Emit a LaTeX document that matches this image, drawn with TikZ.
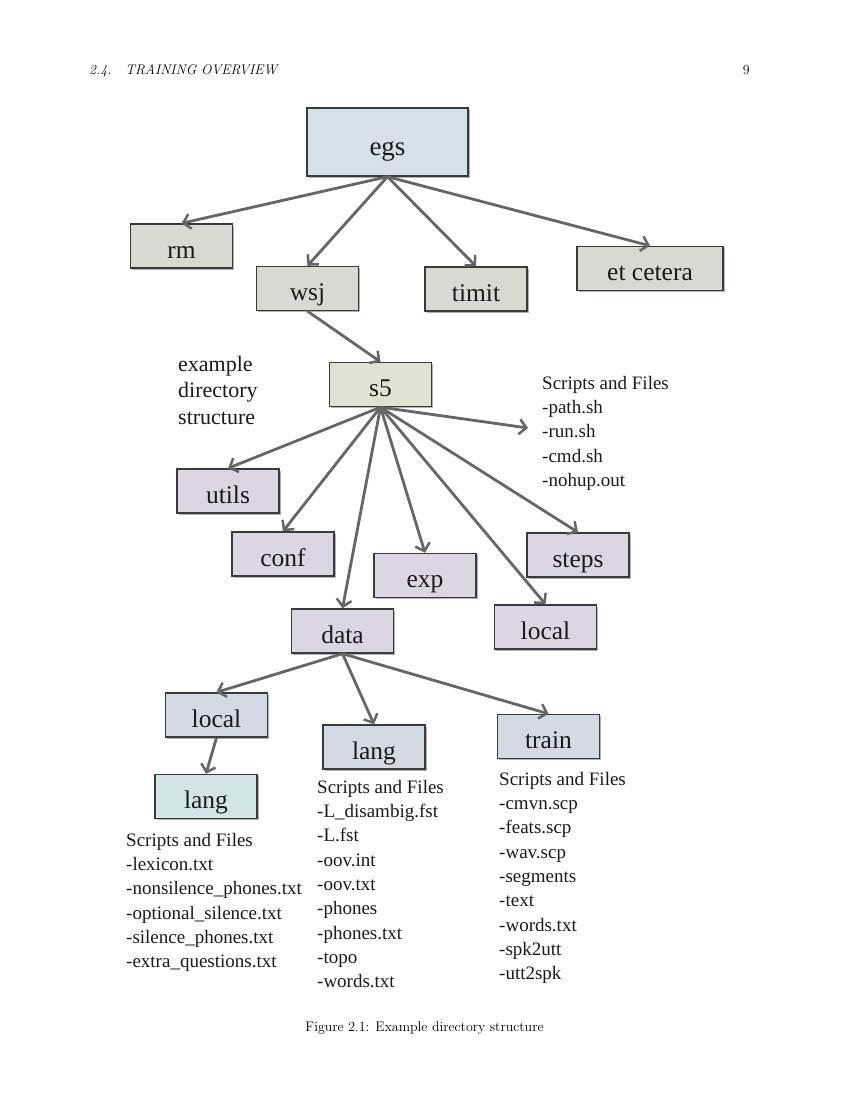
\documentclass[tikz,border=0pt]{standalone}
\usepackage{fontspec}
\newfontfamily\dfont{Liberation Serif}
\usetikzlibrary{arrows.meta,shadows}
\definecolor{egsfill}{HTML}{D4E2E8}
\definecolor{grayfill}{HTML}{D9D9D2}
\definecolor{sfivefill}{HTML}{DFE4D2}
\definecolor{lavfill}{HTML}{DCD6E2}
\definecolor{bluefill}{HTML}{D3DAE4}
\definecolor{tealfill}{HTML}{D2E4E5}
\definecolor{arrowgray}{HTML}{666666}
\definecolor{boxline}{HTML}{3A3A3A}
\definecolor{txt}{HTML}{1A1A1A}
\tikzset{
  dirbox/.style={draw=boxline, line width=1.4pt, minimum width=102pt, minimum height=44pt,
    inner sep=0pt, text height=24pt, text depth=0pt, text=txt,
    font=\dfont\fontsize{25.5}{30}\selectfont,
    drop shadow={shadow xshift=1.5pt, shadow yshift=-1.5pt, opacity=0.3, fill=black}},
  graybox/.style={dirbox, fill=grayfill},
  lavbox/.style={dirbox, fill=lavfill},
  bluebox/.style={dirbox, fill=bluefill},
  conn/.style={draw=arrowgray, line width=2.8pt,
    -{Straight Barb[length=7pt,width=15pt,line width=2.5pt]}},
  filelist/.style={anchor=north west, inner sep=0pt, align=left, text=txt,
    font=\dfont\fontsize{19}{24.3}\selectfont},
}
\begin{document}
\begin{tikzpicture}[x=1pt,y=-1pt]
\useasboundingbox (0,0) rectangle (850,1100);
% header and caption
\node[anchor=base west, inner sep=0pt, font=\fontsize{13.9}{16}\selectfont\itshape] (hdr) at (89,74) {2.4.\quad TRAINING OVERVIEW};
\node[anchor=base east, inner sep=0pt, font=\fontsize{13.9}{16}\selectfont] (pno) at (750,74) {9};
\node[anchor=base, inner sep=0pt, font=\fontsize{13.9}{16}\selectfont] (cap) at (424.5,1031) {Figure 2.1: Example directory structure};
% boxes
\node[dirbox, fill=egsfill, minimum width=161pt, minimum height=68pt, text height=26pt, font=\dfont\fontsize{27}{32}\selectfont] (egs) at (387.5,142) {egs};
\node[graybox] (rm) at (181.5,246) {rm};
\node[graybox] (wsj) at (307.5,288.5) {wsj};
\node[graybox] (timit) at (476,289) {timit};
\node[graybox, minimum width=146pt] (etc) at (650,268.5) {et cetera};
\node[dirbox, fill=sfivefill] (s5) at (380.5,384.5) {s5};
\node[lavbox] (utils) at (228,491) {utils};
\node[lavbox] (conf) at (283,554) {conf};
\node[lavbox] (exp) at (425,575.5) {exp};
\node[lavbox] (steps) at (578,555) {steps};
\node[lavbox] (slocal) at (545.5,627) {local};
\node[lavbox] (data) at (342.5,631) {data};
\node[bluebox] (dlocal) at (216.5,715) {local};
\node[bluebox] (dlang) at (374,747) {lang};
\node[bluebox] (train) at (548.5,736.5) {train};
\node[dirbox, fill=tealfill] (llang) at (206,796.5) {lang};
% texts
\node[anchor=north west, inner sep=0pt, align=left, text=txt, font=\dfont\fontsize{22}{26.5}\selectfont] (ex) at (178,356) {example\\directory\\structure};
\node[filelist] (sfiles) at (542,376) {Scripts and Files\\-path.sh\\-run.sh\\-cmd.sh\\-nohup.out};
\node[filelist] (lfiles) at (126,833) {Scripts and Files\\-lexicon.txt\\-nonsilence\_phones.txt\\-optional\_silence.txt\\-silence\_phones.txt\\-extra\_questions.txt};
\node[filelist] (mfiles) at (317,780) {Scripts and Files\\-L\_disambig.fst\\-L.fst\\-oov.int\\-oov.txt\\-phones\\-phones.txt\\-topo\\-words.txt};
\node[filelist] (tfiles) at (499,772) {Scripts and Files\\-cmvn.scp\\-feats.scp\\-wav.scp\\-segments\\-text\\-words.txt\\-spk2utt\\-utt2spk};
\coordinate (sfend) at (528,428);
% connectors
\draw[conn] (egs.south) -- (rm.north);
\draw[conn] (egs.south) -- (wsj.north);
\draw[conn] (egs.south) -- (timit.north);
\draw[conn] (egs.south) -- (etc.north);
\draw[conn] (wsj.south) -- (s5.north);
\draw[conn] (s5.south) -- (utils.north);
\draw[conn] (s5.south) -- (conf.north);
\draw[conn] (s5.south) -- (data.north);
\draw[conn] (s5.south) -- (exp.north);
\draw[conn] (s5.south) -- (slocal.north);
\draw[conn] (s5.south) -- (steps.north);
\draw[conn] (s5.south) -- (sfend);
\draw[conn] (data.south) -- (dlocal.north);
\draw[conn] (data.south) -- (dlang.north);
\draw[conn] (data.south) -- (train.north);
\draw[conn] (dlocal.south) -- (llang.north);
\end{tikzpicture}
\end{document}
